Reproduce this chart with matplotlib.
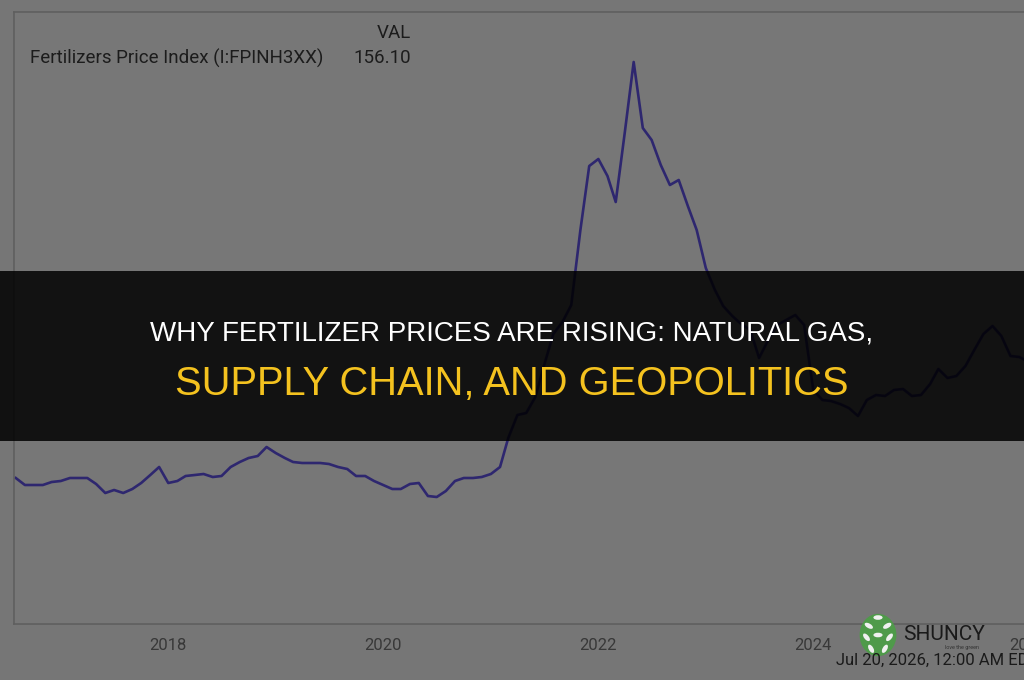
import matplotlib
matplotlib.use("Agg")
from matplotlib import pyplot
from matplotlib.patches import Rectangle, Ellipse
import matplotlib.dates as mdates
import pandas

# Monthly index values (series starts Aug 2016)
values2016 = [98, 94.5, 94.5, 94.5, 96]
values2017 = [96.5, 98, 98, 98, 95, 90.5, 92, 90.5, 92.5, 95.5, 99.5, 103.5]
values2018 = [95.5, 96.5, 99, 99.5, 100, 98.5, 99, 103.5, 106, 108, 109, 113.5]
values2019 = [110.5, 108, 106, 105.5, 105.5, 105.5, 105, 103.5, 102.5, 99, 99, 96.5]
values2020 = [94.5, 92.5, 92.5, 95, 95.5, 89, 88.5, 91.5, 96.5, 98, 98, 98.5]
values2021 = [100, 103.5, 118, 129.5, 130.5, 138.5, 154.5, 170, 176, 184.5, 222, 254]
values2022 = [257.5, 249, 236, 271, 306, 273, 267, 254.5, 244.5, 247, 234, 222]
values2023 = [203, 192, 184, 179, 175, 172, 158, 167, 174.5, 177, 179.5, 174.5]
values2024 = [142, 137, 136.5, 135, 133, 129, 137, 139.5, 139, 142, 142.5, 139]
values2025 = [139.5, 145, 152.5, 148, 149, 154, 162, 170, 174, 169, 159, 158.5]
values2026 = [156.1]

seriesName = "Fertilizers Price Index (I:FPINH3XX)"
lastValue = "156.10"
titleLine1 = "WHY FERTILIZER PRICES ARE RISING: NATURAL GAS,"
titleLine2 = "SUPPLY CHAIN, AND GEOPOLITICS"
timestamp = "Jul 20, 2026, 12:00 AM EDT Powered by YCHARTS"

values = (values2016 + values2017 + values2018 + values2019 + values2020 + values2021
          + values2022 + values2023 + values2024 + values2025 + values2026)
dates = pandas.date_range("2016-08-01", periods=len(values), freq="MS")

narrow = ["Roboto", "DejaVu Sans"]
background = "#767676"

figure = pyplot.figure(figsize=(10.24, 6.8), dpi=100)
figure.patch.set_facecolor(background)

# Plot frame runs past the right edge of the picture
axis = figure.add_axes([14 / 1024, 56 / 680, 1106 / 1024, 612 / 680])
axis.set_facecolor("#777777")
axis.plot(dates, values, color="#2e276f", linewidth=1.9)

axis.set_xlim(pandas.Timestamp("2016-07-26"), pandas.Timestamp("2026-11-08"))
axis.set_ylim(25, 331)
axis.xaxis.set_major_locator(mdates.YearLocator(2))
axis.xaxis.set_major_formatter(mdates.DateFormatter("%Y"))
axis.tick_params(axis="x", length=0, pad=10, labelsize=12, labelcolor="#383838")
for label in axis.get_xticklabels():
    label.set_family(narrow)
axis.set_yticks([])
for side in ["left", "top", "bottom"]:
    axis.spines[side].set_color("#5f5f5f")
    axis.spines[side].set_linewidth(1.2)
axis.spines["right"].set_visible(False)

# Legend header
figure.text(411 / 1024, 1 - 33 / 680, "VAL", ha="right", va="center", fontsize=13.5, color="#1c1c1c", family=narrow)
figure.text(30 / 1024, 1 - 58 / 680, seriesName, ha="left", va="center", fontsize=13.5, color="#1c1c1c", family=narrow)
figure.text(411 / 1024, 1 - 58 / 680, lastValue, ha="right", va="center", fontsize=13.5, color="#1c1c1c", family=narrow)

# Dark banner with headline
figure.patches.append(Rectangle((0, 1 - 441 / 680), 1, 170 / 680, transform=figure.transFigure,
                                facecolor="black", alpha=0.85, edgecolor="none", zorder=5))
figure.text(0.5, 1 - 333 / 680, titleLine1, ha="center", va="center", fontsize=20,
            color="white", family="Liberation Sans", zorder=6)
figure.text(0.5, 1 - 384 / 680, titleLine2, ha="center", va="center", fontsize=28.7,
            color="#f4c21f", family="Liberation Sans", zorder=6)

# Timestamp and watermark
figure.text(836 / 1024, 1 - 661 / 680, timestamp, ha="left", va="center", fontsize=12,
            color="#1a1a1a", family=narrow)
figure.text(903 / 1024, 1 - 634 / 680, "SHUNCY", ha="left", va="center", fontsize=15,
            color="#1a1a1a", family=narrow)
figure.text(945 / 1024, 1 - 648 / 680, "love the green", ha="left", va="center", fontsize=4,
            color="#333333", family=narrow)

logo = figure.add_axes([855 / 1024, 1 - 658 / 680, 46 / 1024, 46 / 680])
logo.set_xlim(0, 1)
logo.set_ylim(0, 1)
logo.axis("off")
logo.add_patch(Ellipse((0.5, 0.5), 0.8, 0.92, facecolor="#4f9a4a", edgecolor="none"))
for cx, cy, angle in [(0.5, 0.88, 90), (0.3, 0.7, 60), (0.7, 0.7, 120), (0.25, 0.45, 40),
                      (0.75, 0.45, 140), (0.35, 0.2, 30), (0.65, 0.2, 150), (0.5, 0.5, 90)]:
    logo.add_patch(Ellipse((cx, cy), 0.1, 0.2, angle=angle, facecolor="#f0f0f0", edgecolor="none"))

pyplot.savefig("out.png", dpi=100, facecolor=figure.get_facecolor())
